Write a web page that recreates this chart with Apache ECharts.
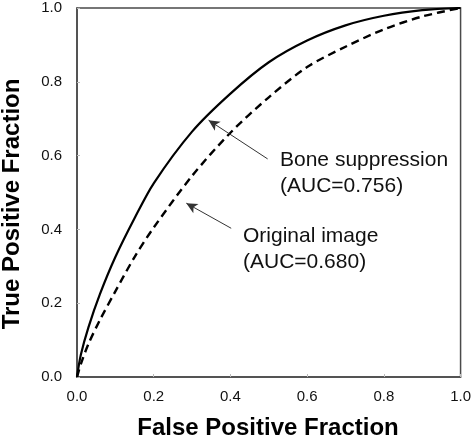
<!DOCTYPE html>
<html>
<head>
<meta charset="utf-8">
<script src="https://cdn.jsdelivr.net/npm/echarts@6/dist/echarts.min.js"></script>
<style>html,body{margin:0;padding:0;background:#fff}#c{width:474px;height:440px}</style>
</head>
<body>
<div id="c"></div>
<script>
var fpf = [0, 0.01, 0.03, 0.06, 0.1, 0.15, 0.2, 0.3, 0.4, 0.5, 0.6, 0.7, 0.8, 0.9, 1.0];
var tpfBone = [0, 0.06, 0.135, 0.225, 0.325, 0.43, 0.525, 0.665, 0.768, 0.853, 0.912, 0.953, 0.979, 0.994, 1.0];
var tpfOriginal = [0, 0.035, 0.09, 0.155, 0.232, 0.325, 0.405, 0.545, 0.662, 0.758, 0.84, 0.895, 0.942, 0.977, 1.0];
var boneArrow = [[0.497, 0.591], [0.343, 0.696]];
var origArrow = [[0.402, 0.403], [0.285, 0.471]];
var boneLabel = ['Bone suppression', '(AUC=0.756)'];
var origLabel = ['Original image', '(AUC=0.680)'];
var xTitle = 'False Positive Fraction';
var yTitle = 'True Positive Fraction';

function pairs(xs, ys) { return xs.map(function (x, i) { return [x, ys[i]]; }); }

var chart = echarts.init(document.getElementById('c'), null, {renderer: 'canvas'});
var font = 'Liberation Sans';
var axisCommon = {
  type: 'value', min: 0, max: 1, interval: 0.2,
  axisLine: {show: true, lineStyle: {color: '#4a4a4a', width: 1.5}},
  axisTick: {show: true, inside: true, length: 3, lineStyle: {color: '#bbb'}},
  splitLine: {show: false},
  axisLabel: {color: '#111', fontSize: 15, fontFamily: font, formatter: function (v) { return v.toFixed(1); }}
};
chart.setOption({
  animation: false,
  backgroundColor: '#fff',
  grid: {left: 77, right: 13, top: 8, bottom: 63, show: true, borderColor: '#4a4a4a', borderWidth: 1.5},
  xAxis: Object.assign({}, axisCommon, {axisLabel: Object.assign({}, axisCommon.axisLabel, {margin: 12})}),
  yAxis: Object.assign({}, axisCommon, {axisLabel: Object.assign({}, axisCommon.axisLabel, {margin: 15})}),
  series: [
    {
      type: 'line', name: 'Bone suppression', data: pairs(fpf, tpfBone), smooth: 0.3,
      symbol: 'none', lineStyle: {color: '#000', width: 2.2, type: 'solid'},
      markLine: {
        silent: true, symbol: ['none', 'arrow'], symbolSize: [8, 11],
        lineStyle: {color: '#333', width: 1, type: 'solid'}, label: {show: false},
        data: [[{coord: boneArrow[0]}, {coord: boneArrow[1]}], [{coord: origArrow[0]}, {coord: origArrow[1]}]]
      }
    },
    {
      type: 'line', name: 'Original image', data: pairs(fpf, tpfOriginal), smooth: 0.3,
      symbol: 'none', lineStyle: {color: '#000', width: 2.4, type: [8, 5]}
    }
  ],
  graphic: [
    {type: 'text', left: 280, top: 147, style: {text: boneLabel.join('\n'), font: '21px ' + font, fill: '#111', lineHeight: 26}},
    {type: 'text', left: 243, top: 223, style: {text: origLabel.join('\n'), font: '21px ' + font, fill: '#111', lineHeight: 26}},
    {type: 'text', x: 268, y: 428, style: {text: xTitle, font: 'bold 24px ' + font, fill: '#000', textAlign: 'center', textVerticalAlign: 'middle'}},
    {type: 'text', x: 12, y: 204, rotation: Math.PI / 2, style: {text: yTitle, font: 'bold 24px ' + font, fill: '#000', textAlign: 'center', textVerticalAlign: 'middle'}}
  ]
});
</script>
</body>
</html>
